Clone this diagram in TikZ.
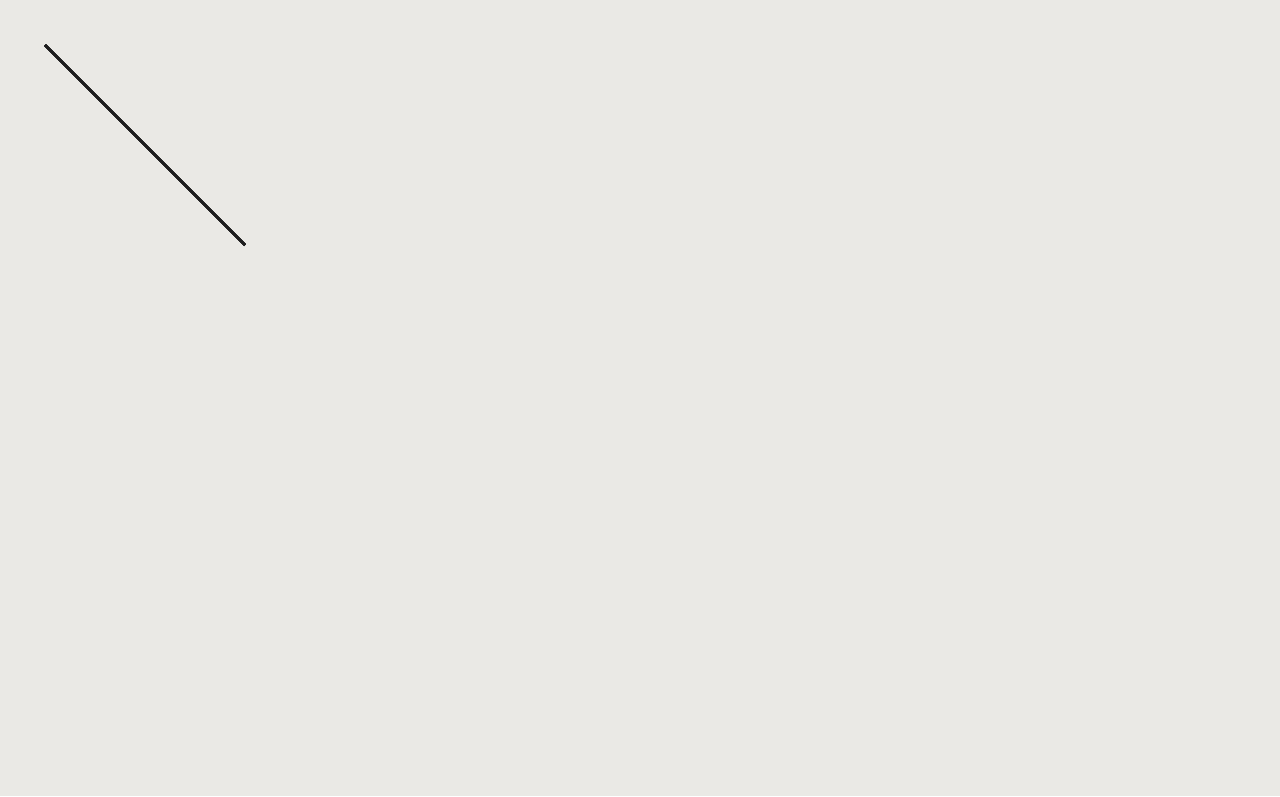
\documentclass[tikz,border=0pt]{standalone}
\usepackage{fontspec}
\setmainfont{Liberation Sans}
\usetikzlibrary{arrows.meta}
\definecolor{paper}{HTML}{EAE9E5}
\definecolor{ink}{HTML}{1E1E1E}
\definecolor{kfill}{HTML}{CFCDC8}
\begin{document}
\begin{tikzpicture}[x=0.02cm,y=-0.02cm,
  wire/.style={ink,line width=1.6pt},
  lbl/.style={ink,font=\fontsize{28}{30}\selectfont,anchor=west,inner sep=0pt},
  pointer/.style={ink,line width=1.8pt,-{Latex[length=14pt,width=11pt]}}]
\fill[paper] (0,0) rectangle (1280,796);
\useasboundingbox (0,0) rectangle (1280,796);
% wavy user threads
\foreach \x/\n in {365/a,478/b,590/c,705/d}{
  \draw[wire] plot[smooth,samples=60,domain=45:245] ({\x+10*sin((\x*0+\x*0)+(\x*0)+((\x*0)+((\x*0)))+ (\x*0)) + 10*sin((\x*0)+(\x*0))},\x) ;
}
\end{tikzpicture}
\end{document}
